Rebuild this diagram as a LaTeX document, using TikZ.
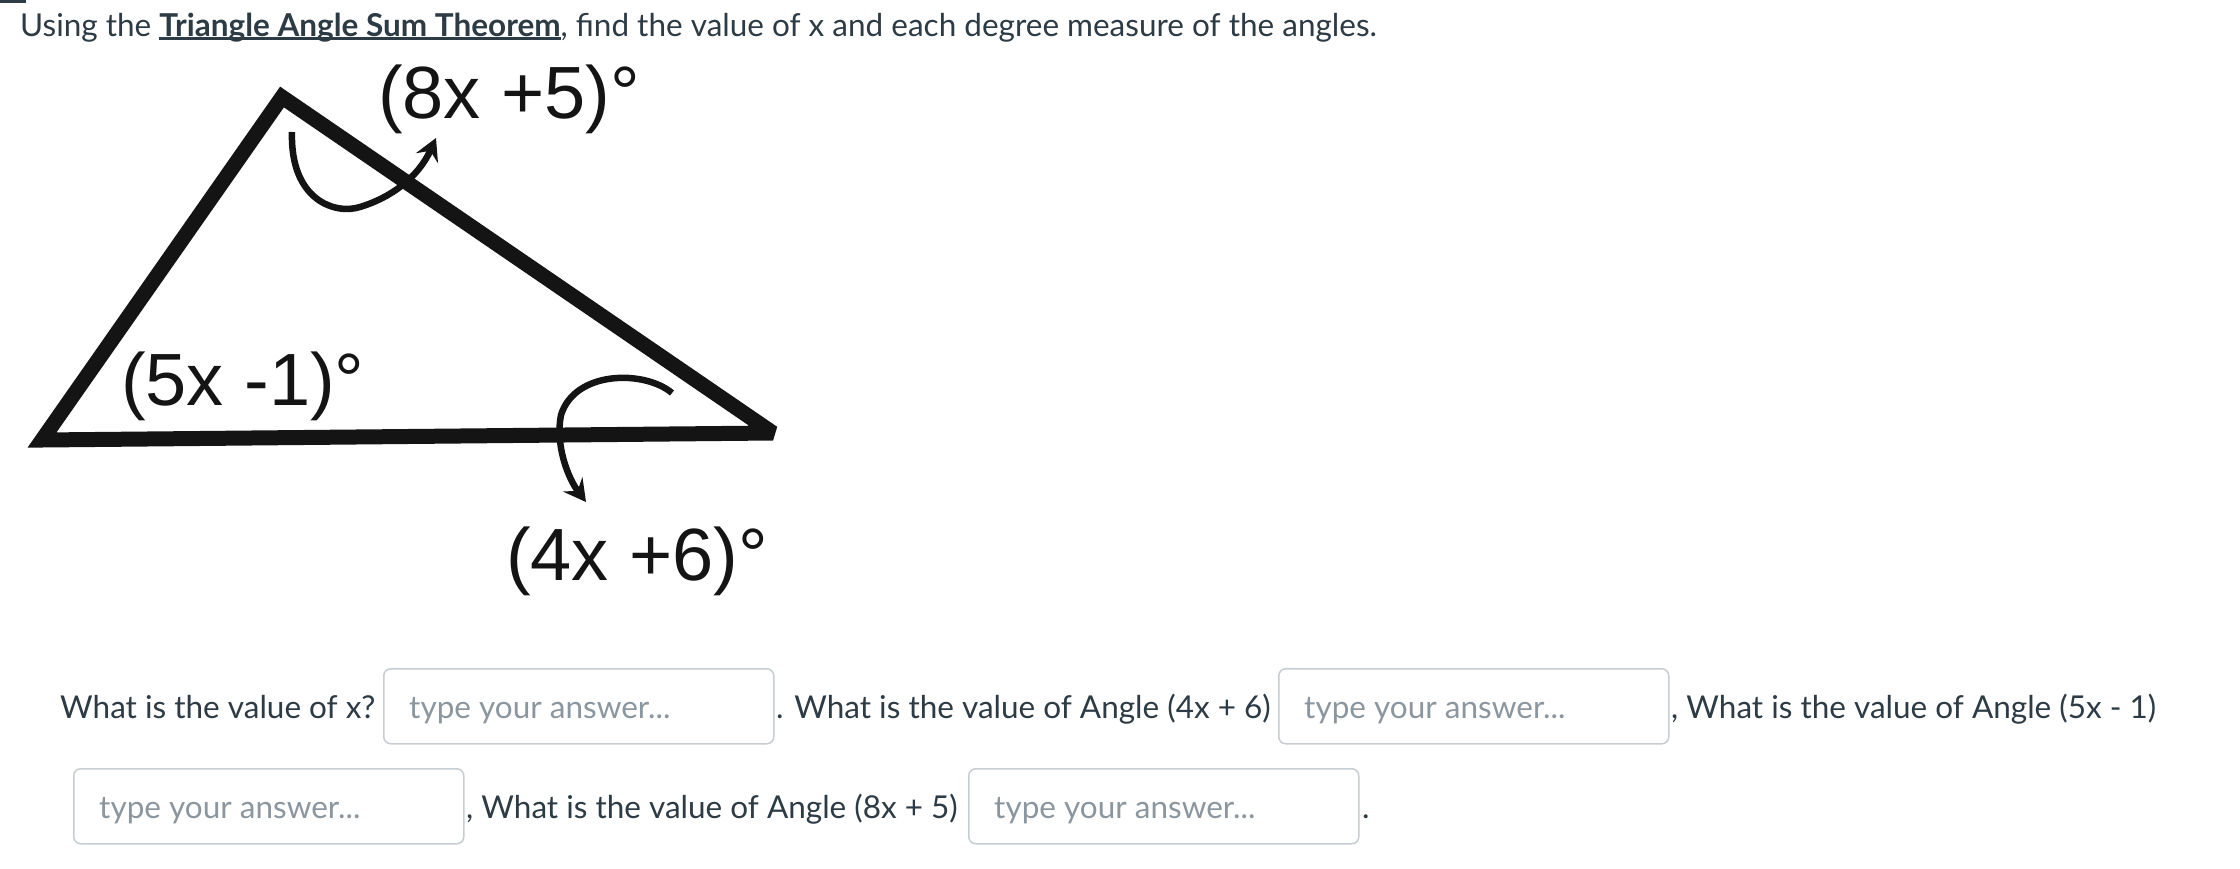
\documentclass[tikz,border=0pt]{standalone}
\usepackage{fontspec}
\setmainfont{Lato}
\newfontfamily\arialfont{Liberation Sans}
\usetikzlibrary{arrows.meta}
\definecolor{txt}{HTML}{2D3B45}
\definecolor{ph}{HTML}{8B969E}
\definecolor{bx}{HTML}{C7CDD1}
\definecolor{ink}{HTML}{141414}
\newcommand\ulbold[1]{\setbox0\hbox{\bfseries #1}\rlap{\rule[-3.5pt]{\wd0}{2.2pt}}\box0}
\tikzset{
  qtext/.style={anchor=base west, inner sep=0pt, text=txt, font=\fontsize{31.5}{38}\selectfont},
  phtext/.style={anchor=base west, inner sep=0pt, text=ph, font=\fontsize{31.5}{38}\selectfont},
  ansbox/.style={draw=bx, line width=1.5pt, rounded corners=7pt, fill=white, anchor=north west, minimum width=390pt, minimum height=75pt, inner sep=0pt},
  edge/.style={line width=15pt, line join=miter, miter limit=3, draw=ink},
  turn/.style={line width=6.5pt, draw=ink, -{Stealth[length=22pt,width=24pt,inset=8pt]}},
  lbl/.style={anchor=base west, inner sep=0pt, text=ink, font=\arialfont\fontsize{74}{80}\selectfont},
}
\begin{document}
\begin{tikzpicture}[x=1pt,y=-1pt]
\fill[white] (0,0) rectangle (2240,868);
\useasboundingbox (0,0) rectangle (2240,868);
\fill[txt] (0,0) rectangle (26,3);
% title
\node[qtext] (title) at (20,36) {Using the \ulbold{Triangle Angle Sum Theorem}, find the value of x and each degree measure of the angles.};
% triangle
\coordinate (A) at (282,97);
\coordinate (B) at (42,440);
\coordinate (C) at (773,433);
\draw[edge] (A) -- (B) -- (C) -- cycle;
% angle arrows
\draw[turn] (292,132) .. controls (290,200) and (335,215) .. (360,207) .. controls (390,198) and (418,178) .. (436,138);
\draw[turn] (672,393) .. controls (645,370) and (575,370) .. (561,415) .. controls (555,445) and (568,478) .. (586,502);
% labels
\node[lbl] (l8) at (378,118) {(8x +5)°};
\node[lbl] (l5) at (121,405) {(5x -1)°};
\node[lbl] (l4) at (506,580) {(4x +6)°};
% questions row 1
\node[qtext] (q1) at (60,718) {What is the value of x?};
\node[ansbox] (b1) at (383,668) {};
\node[phtext] (p1) at (409,718) {type your answer...};
\node[qtext] (q2) at (776,718) {. What is the value of Angle (4x + 6)};
\node[ansbox] (b2) at (1278,668) {};
\node[phtext] (p2) at (1304,718) {type your answer...};
\node[qtext] (q3) at (1671,718) {, What is the value of Angle (5x - 1)};
% row 2
\node[ansbox] (b3) at (73,768) {};
\node[phtext] (p3) at (99,818) {type your answer...};
\node[qtext] (q4) at (466,818) {, What is the value of Angle (8x + 5)};
\node[ansbox] (b4) at (968,768) {};
\node[phtext] (p4) at (994,818) {type your answer...};
\node[qtext] (q5) at (1362,818) {.};
\end{tikzpicture}
\end{document}
